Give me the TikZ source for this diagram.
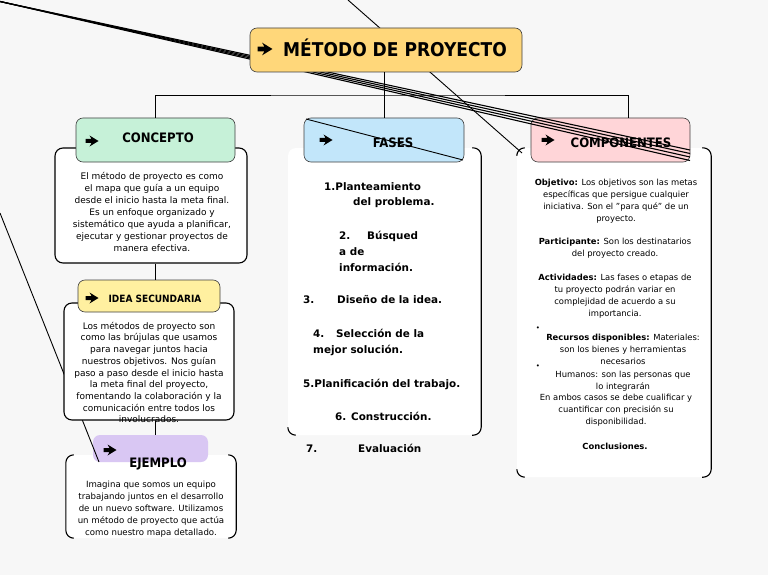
\documentclass[tikz,border=0pt]{standalone}
\usepackage{fontspec}
\setmainfont{DejaVu Sans}
\newfontfamily\condfont{DejaVu Sans Condensed}
\usepackage{tikz}
\usetikzlibrary{positioning}

\definecolor{fondo}{HTML}{F7F7F7}
\definecolor{oro}{HTML}{FFD77A}
\definecolor{verde}{HTML}{C6F1D8}
\definecolor{azul}{HTML}{C2E6FA}
\definecolor{rosa}{HTML}{FFD5D8}
\definecolor{amarillo}{HTML}{FFF0A0}
\definecolor{lila}{HTML}{D9C7F3}

\begin{document}
\begin{tikzpicture}
[x=1pt, y=-1pt,
% STYLES
% The head style is used for the coloured boxes with the names
head/.style={rectangle, rounded corners=7pt, draw=black!75, line width=0.6pt, inner sep=0pt},
% The body style is used for the white boxes under each head
body/.style={rectangle, rounded corners=8pt, fill=white, inner sep=0pt},
% The bracket style draws the open borders of the white boxes
bracket/.style={line width=1.1pt, rounded corners=8pt},
headtext/.style={inner sep=0pt, font=\condfont\bfseries\fontsize{13}{15}\selectfont},
% heavy arrow in front of each name
flechita/.pic={\fill (-6.5,-2) -- (-0.5,-2) -- (-2.5,-5.5) -- (6.5,0) -- (-2.5,5.5) -- (-0.5,2) -- (-6.5,2) -- cycle;},
comment/.style={align=center, inner sep=0pt, font=\fontsize{8.4}{12}\selectfont},
fase/.style={anchor=base west, inner sep=0pt, font=\bfseries\fontsize{10.4}{12}\selectfont},
stray/.style={line width=0.9pt}]

\fill[fondo] (0,0) rectangle (768,575);
\useasboundingbox (0,0) rectangle (768,575);

% Draw boxes
\node [body, draw, line width=1.1pt, minimum width=192pt, minimum height=115pt] (concepto-body) at (151,205.5) {};
\node [head, fill=verde, minimum width=159pt, minimum height=44pt] (concepto) at (155.5,140) {};
\node [body, minimum width=193pt, minimum height=287pt] (fases-body) at (384.5,291.5) {};
\node [head, fill=azul, minimum width=160pt, minimum height=44pt] (fases) at (384,140) {};
\node [body, minimum width=194pt, minimum height=329pt] (comp-body) at (614,312.5) {};
\node [head, fill=rosa, minimum width=159pt, minimum height=44pt] (componentes) at (610.5,140) {};
\node [body, minimum width=170pt, minimum height=83pt] (ejemplo-body) at (151,496.5) {};
\node [head, draw=none, fill=lila, minimum width=115pt, minimum height=27pt] (ejemplo) at (150.5,448.5) {};

% open borders
\draw [bracket] ([xshift=-9pt]fases-body.north east) -- (fases-body.north east) -- (fases-body.south east) -- ([xshift=-9pt]fases-body.south east);
\draw [bracket] ([yshift=8pt]fases-body.south west) -- (fases-body.south west) -- ([xshift=8pt]fases-body.south west);
\draw [bracket] ([xshift=-9pt]comp-body.north east) -- (comp-body.north east) -- (comp-body.south east) -- ([xshift=-9pt]comp-body.south east);
\draw [bracket] ([yshift=-6pt]comp-body.north west) -- (comp-body.north west) -- ([xshift=8pt]comp-body.north west);
\draw [bracket] ([yshift=8pt]comp-body.south west) -- (comp-body.south west) -- ([xshift=8pt]comp-body.south west);
\draw [bracket] ([xshift=8pt]ejemplo-body.north west) -- (ejemplo-body.north west) -- (ejemplo-body.south west) -- ([xshift=8pt]ejemplo-body.south west);
\draw [bracket] ([xshift=-8pt]ejemplo-body.north east) -- (ejemplo-body.north east) -- (ejemplo-body.south east) -- ([xshift=-8pt]ejemplo-body.south east);

% names
\pic (flecha-concepto) at (92,141) {flechita};
\node [headtext] (concepto-text) at (158,138) {CONCEPTO};
\pic (flecha-fases) at (326,140) {flechita};
\node [headtext] (fases-text) at (393,143) {FASES};
\pic (flecha-comp) at (548,140) {flechita};
\node [headtext] (comp-text) at (621,143) {COMPONENTES};
\pic (flecha-ejemplo) at (110,450) {flechita};

%%%%%%%%%%%%%%%
% Change data from here

% concepto
\node [comment, font=\fontsize{9}{12}\selectfont] (comment-concepto) at (152,212) {El método de proyecto es como\\el mapa que guía a un equipo\\desde el inicio hasta la meta final.\\Es un enfoque organizado y\\sistemático que ayuda a planificar,\\ejecutar y gestionar proyectos de\\manera efectiva.};

% fases
\node [fase] (fase-1) at (324,190.5) {1.Planteamiento};
\node [fase] (fase-1b) at (353,205.5) {del problema.};
\node [fase] (fase-2) at (339,239.5) {\makebox[28pt][l]{2.}Búsqued};
\node [fase] (fase-2b) at (339,255.5) {a de};
\node [fase] (fase-2c) at (339,271.5) {información.};
\node [fase] (fase-3) at (303,303.5) {\makebox[34pt][l]{3.}Diseño de la idea.};
\node [fase] (fase-4) at (313,337) {\makebox[23pt][l]{4.}Selección de la};
\node [fase] (fase-4b) at (313,353) {mejor solución.};
\node [fase] (fase-5) at (303,387) {5.Planificación del trabajo.};
\node [fase] (fase-6) at (335,420) {6. Construcción.};
\node [fase] (fase-7) at (306,452) {\makebox[52pt][l]{7.}Evaluación};

% componentes
\node [comment] (comment-objetivo) at (616,201) {\textbf{Objetivo:} Los objetivos son las metas\\específicas que persigue cualquier\\iniciativa. Son el "para qué" de un\\proyecto.};
\node [comment] (comment-participante) at (615,248) {\textbf{Participante:} Son los destinatarios\\del proyecto creado.};
\node [comment] (comment-actividades) at (615,296) {\textbf{Actividades:} Las fases o etapas de\\tu proyecto podrán variar en\\complejidad de acuerdo a su\\importancia.};
\node [comment, font=\fontsize{8.4}{12.25}\selectfont] (comment-recursos) at (623,362.5) {\textbf{Recursos disponibles:} Materiales:\\son los bienes y herramientas\\necesarios\\Humanos: son las personas que\\lo integrarán};
\node [comment, font=\fontsize{7}{7}\selectfont] (bullet-1) at (538,329) {•};
\node [comment, font=\fontsize{7}{7}\selectfont] (bullet-2) at (538,367) {•};
\node [comment] (comment-ambos) at (616,410) {En ambos casos se debe cualificar y\\cuantificar con precisión su\\disponibilidad.};
\node [comment] (comment-conclusiones) at (615,446) {\textbf{Conclusiones.}};

% ejemplo
\node [comment, font=\fontsize{8.6}{12}\selectfont] (comment-ejemplo) at (151,509) {Imagina que somos un equipo\\trabajando juntos en el desarrollo\\de un nuevo software. Utilizamos\\un método de proyecto que actúa\\como nuestro mapa detallado.};

%%%%%%%%%%%%%%%%

% Draw the links between boxes
\coordinate (bus) at (384,95);
\coordinate (bus-r) at (628,95);
\draw [line width=0.6pt] (concepto.north) |- (bus) -- (bus-r) -- (bus-r |- componentes.north);
\draw [line width=0.6pt] (bus) -- (fases.north);

% loose lines
\draw [stray] (348,0) -- (522,153);
\foreach \j in {150,153.5,157,160.5}
  \draw [stray, line width=1.1pt] (0,1.5) -- (690,\j);
\draw [stray] (306,119) -- (463,160);
\draw [stray] (0,213) -- (99,462);

% idea secundaria
\node [body, draw, line width=1.1pt, minimum width=170pt, minimum height=117pt] (idea-body) at (149,361.5) {};
\node [head, fill=amarillo, minimum width=142pt, minimum height=32pt] (idea) at (149,296) {};
\pic (flecha-idea) at (92,298) {flechita};
\node [headtext, font=\condfont\bfseries\fontsize{10}{12}\selectfont] (idea-text) at (155,299) {IDEA SECUNDARIA};
\node [comment, font=\fontsize{9}{11.7}\selectfont] (comment-idea) at (149,372.5) {Los métodos de proyecto son\\como las brújulas que usamos\\para navegar juntos hacia\\nuestros objetivos. Nos guían\\paso a paso desde el inicio hasta\\la meta final del proyecto,\\fomentando la colaboración y la\\comunicación entre todos los\\involucrados.};
\node [headtext] (ejemplo-text) at (158,464) {EJEMPLO};

\draw [line width=0.6pt] (concepto-body.south -| 155,0) -- (idea.north -| 155,0);
\draw [line width=0.6pt] (idea-body.south -| 155,0) -- (ejemplo.north -| 155,0);

% title
\node [head, fill=oro, minimum width=272pt, minimum height=44pt] (titulo) at (386,50) {};
\pic [scale=1.15] (flecha-titulo) at (265,49) {flechita};
\node [headtext, font=\condfont\bfseries\fontsize{19}{21}\selectfont] (titulo-text) at (395,48) {MÉTODO DE PROYECTO};
\draw [line width=0.6pt] (titulo.south -| bus) -- (bus);

\end{tikzpicture}
\end{document}
